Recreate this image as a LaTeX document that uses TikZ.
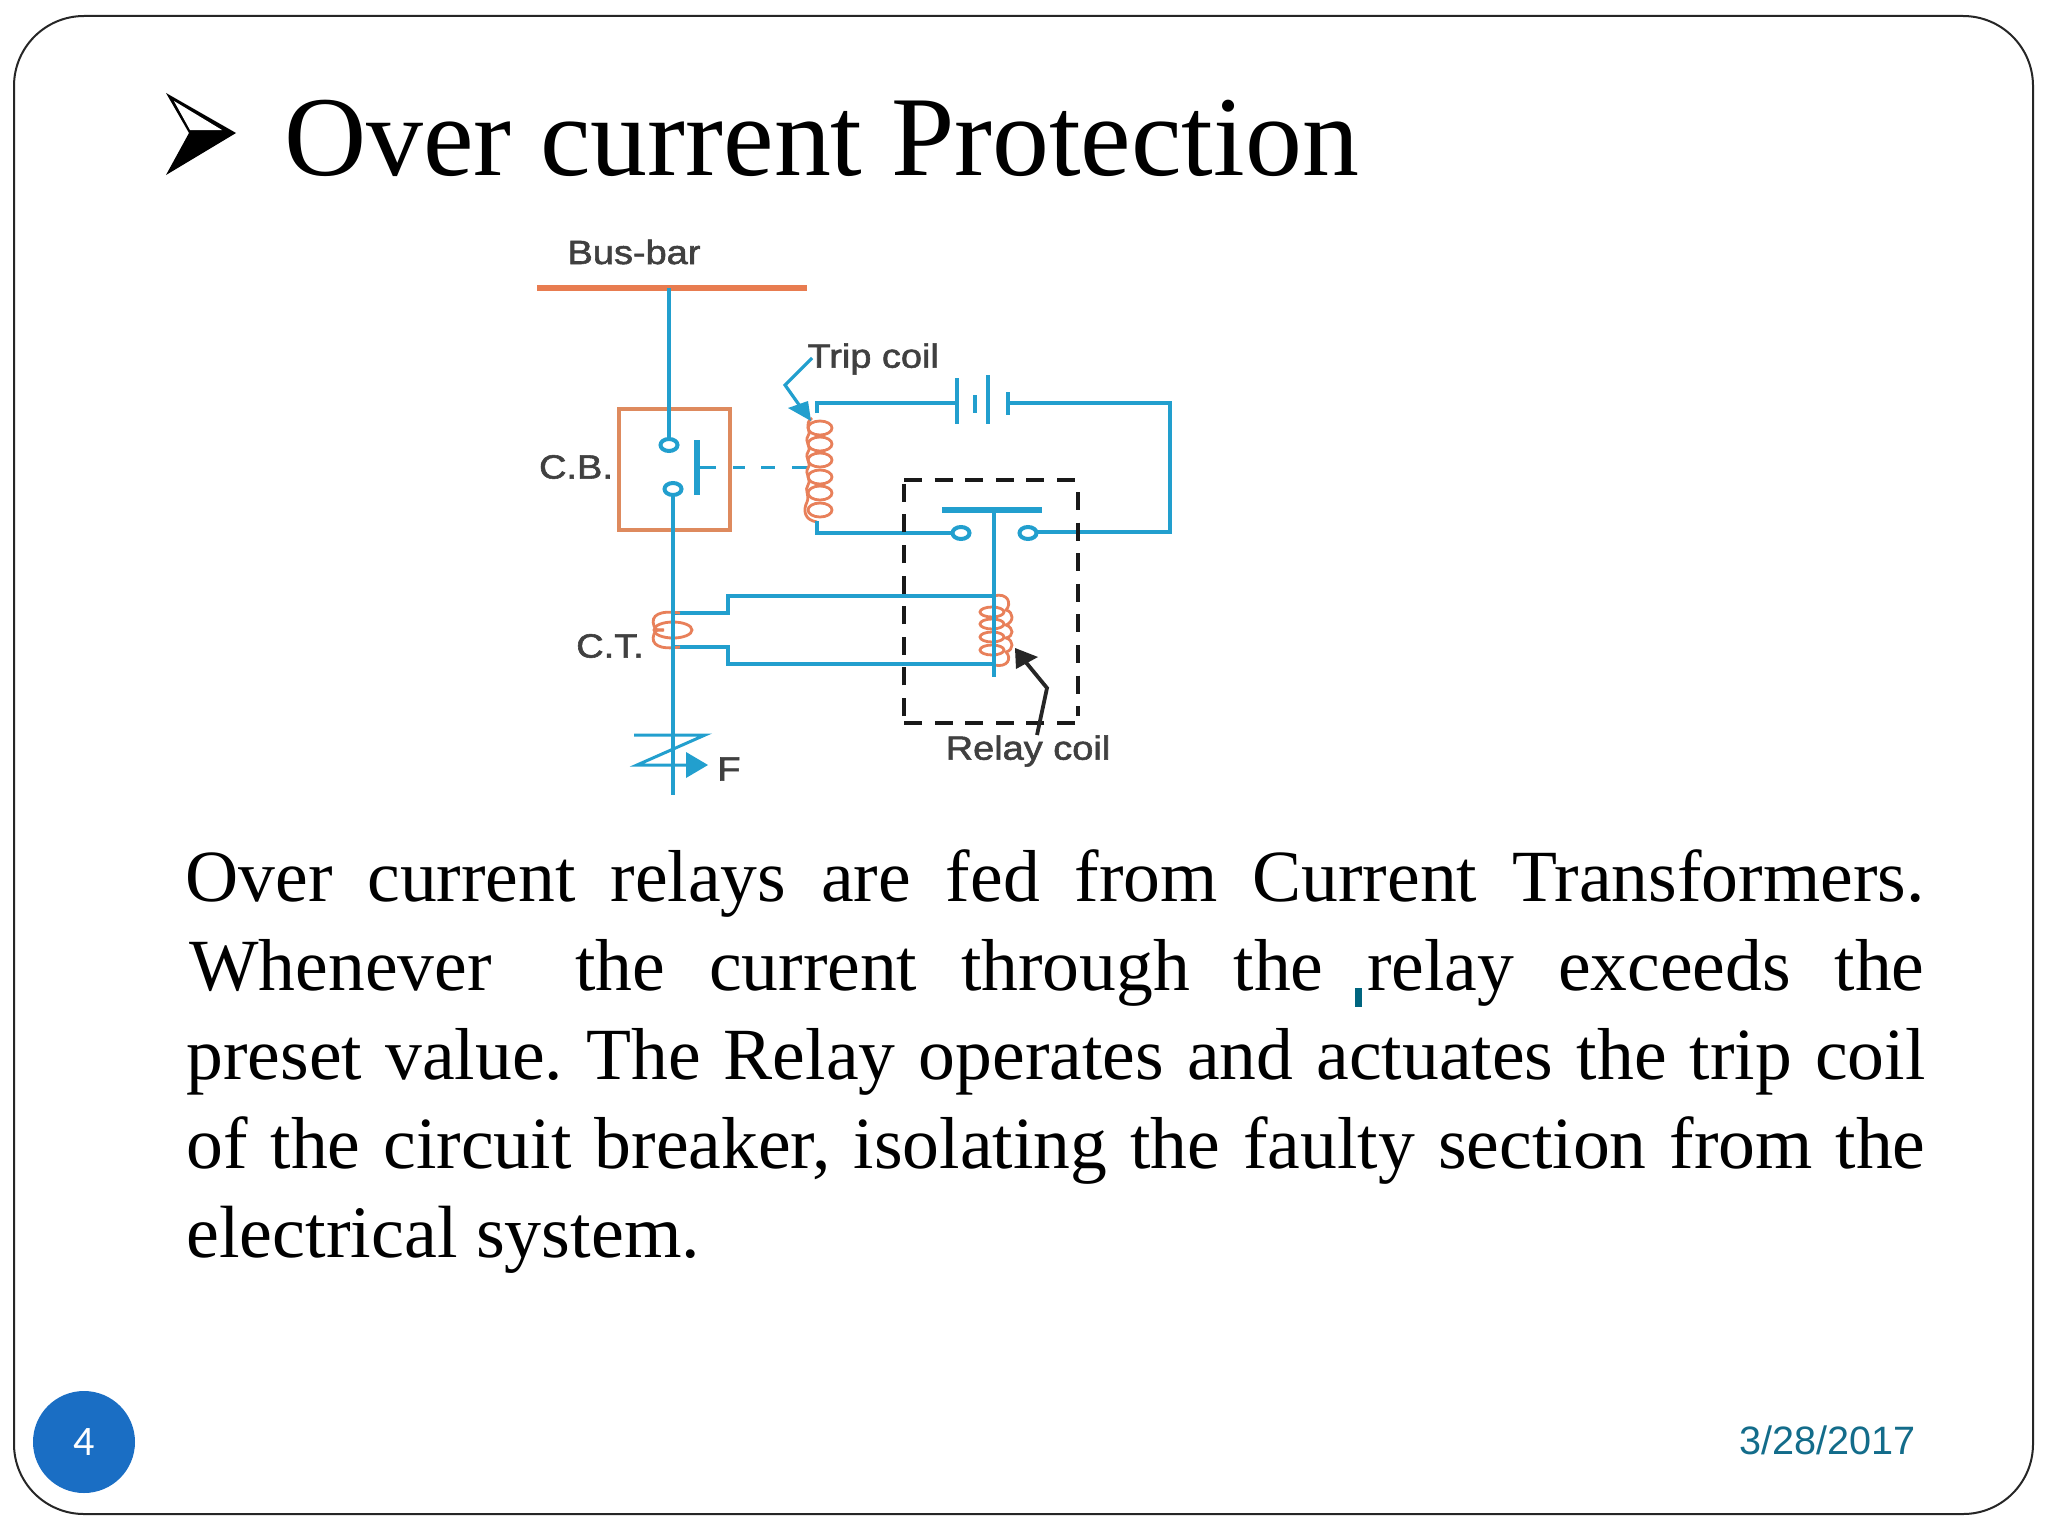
\documentclass[tikz,border=0pt]{standalone}
\usepackage{fontspec}
\setmainfont{Liberation Serif}
\newfontfamily\lab{Liberation Sans}
\newfontfamily\labb[FakeBold=1.6]{Liberation Sans}
\newfontfamily\numf{Carlito}
\usetikzlibrary{arrows.meta}
\definecolor{wire}{HTML}{229FCE}
\definecolor{coil}{HTML}{E8805A}
\definecolor{busc}{HTML}{E87C50}
\definecolor{boxc}{HTML}{DE8A5E}
\definecolor{teal1}{HTML}{00657F}
\definecolor{datec}{HTML}{136C8A}
\definecolor{pagec}{HTML}{1A6EC4}
\tikzset{
 wireline/.style={draw=wire,line width=1.9pt,line join=miter},
 mainwire/.style={draw=wire,line width=2.4pt},
 thickwire/.style={draw=wire,line width=3pt},
 contactring/.style={draw=wire,line width=2pt,fill=white},
 coilline/.style={draw=coil,line width=1.4pt},
 boxdash/.style={black!90,line width=2pt,dash pattern=on 9pt off 6.3pt},
 difflabel/.style={font=\labb\fontsize{16.8}{17}\selectfont,text=black!75,xscale=1.13,transform shape,inner sep=0pt},
 bodyline/.style={anchor=base west,inner sep=0pt,font=\fontsize{36.8}{44}\selectfont},
}
\frenchspacing
\newcommand{\bodyrow}[1]{\makebox[869.5pt][s]{#1}}
\begin{document}
\begin{tikzpicture}[x=0.5pt,y=-0.5pt]
\useasboundingbox (0,0) rectangle (2048,1536);
\fill[white] (0,0) rectangle (2048,1536);
\draw[line width=1pt,black!85,rounded corners=35pt] (14,16) rectangle (2033,1514);
% bullet
\fill[black] (166,93) -- (236,133) -- (166,175) -- (189,133) -- cycle;
\fill[white] (174,101) -- (222,130) -- (190,130) -- cycle;
\node[anchor=base west,inner sep=0pt,font=\fontsize{56.9}{60}\selectfont] (title) at (284,175) {Over current Protection};
% diagram
\draw[draw=busc,line width=3pt] (537,288) -- (807,288);
\draw[draw=boxc,line width=1.7pt] (619,409) rectangle (730,530);
\coordinate (tc) at (669,445);
\coordinate (bc) at (673,489);
\coordinate (busjoin) at (669,288);
\coordinate (fend) at (673,795);
\draw[mainwire] (busjoin) -- (tc);
\draw[mainwire] (bc) -- (fend);
\draw[contactring] (tc) ellipse (8.5 and 6);
\draw[contactring] (bc) ellipse (8.5 and 6);
\draw[thickwire] (697,440) -- (697,495);
\draw[draw=wire,line width=1.5pt] (697,467) -- (716,467) (733,467) -- (745,467) (761,467) -- (775,467) (792,467) -- (808,467);
% trip coil
\foreach \yy in {428,444,460,477,493,510}{
 \draw[coilline] (820,\yy) ellipse (12 and 7);
}
\draw[coilline] (812,418) .. controls (803,425) and (812,430) .. (808,436)
 .. controls (804,442) and (812,446) .. (808,452)
 .. controls (804,458) and (812,462) .. (808,468)
 .. controls (804,474) and (812,478) .. (808,485)
 .. controls (804,490) and (810,495) .. (807,502)
 .. controls (803,510) and (804,520) .. (817,522);
\draw[wireline] (817,413) -- (817,403) -- (957,403);
\draw[wireline] (1008,403) -- (1170,403) -- (1170,532) -- (1028,532);
\draw[wireline] (961,533) -- (817,533) -- (817,521);
\draw[draw=wire,line width=2.4pt] (957,378) -- (957,424);
\draw[draw=wire,line width=2.4pt] (975,395) -- (975,413);
\draw[draw=wire,line width=2.4pt] (988,375) -- (988,424);
\draw[draw=wire,line width=2.4pt] (1008,392) -- (1008,415);
\draw[contactring] (961,533) ellipse (8.5 and 6);
\draw[contactring] (1028,533) ellipse (8.5 and 6);
\draw[thickwire] (942,510) -- (1042,510);
% relay dashed box
\draw[boxdash] (904,480) -- (1078,480);
\draw[boxdash] (1078,492) -- (1078,716);
\draw[boxdash] (1075,723) -- (904,723);
\draw[boxdash] (904,716) -- (904,484);
% relay coil
\foreach \yy in {612,624,637,650}{
 \draw[coilline] (992,\yy) ellipse (12 and 5);
}
\draw[coilline] (994,596) .. controls (1008,592) and (1012,604) .. (1006,610)
 .. controls (1014,612) and (1014,622) .. (1006,625)
 .. controls (1014,628) and (1014,636) .. (1006,638)
 .. controls (1014,640) and (1014,650) .. (1006,652)
 .. controls (1012,658) and (1008,668) .. (994,665);
% CT wires and coil
\draw[wireline] (673,613) -- (728,613) -- (728,596) -- (994,596);
\draw[wireline] (673,647) -- (728,647) -- (728,664) -- (994,664);
\draw[coilline] (673,630) ellipse (19 and 8);
\draw[coilline] (680,613) .. controls (660,610) and (650,615) .. (654,626)
 .. controls (656,632) and (660,630) .. (664,630);
\draw[coilline] (680,647) .. controls (660,650) and (650,645) .. (654,634)
 .. controls (656,628) and (660,630) .. (664,630);
\draw[mainwire] (673,600) -- (673,660);
\draw[mainwire] (994,510) -- (994,677);
% fault symbol
\draw[draw=wire,line width=1.5pt] (634,735) -- (705,735) -- (637,765) -- (690,765);
\fill[wire] (708,765) -- (686,752) -- (686,778) -- cycle;
% pointers
\coordinate (tripstart) at (812,358);
\coordinate (tripknee) at (785,385);
\coordinate (triptip) at (811,421);
\draw[wireline,line width=1.6pt] (tripstart) -- (tripknee) -- (802,409);
\fill[wire] (triptip) -- (788,408) -- (808,401) -- cycle;
\coordinate (relstart) at (1037,735);
\coordinate (relknee) at (1047,688);
\coordinate (reltip) at (1015,648);
\draw[black!85,line width=1.9pt] (relstart) -- (relknee) -- (1024,660);
\fill[black!85] (reltip) -- (1038,657) -- (1016,669) -- cycle;
% labels
\node[difflabel] (lbus) at (634,252) {Bus-bar};
\node[difflabel] (lcb) at (576,467) {C.B.};
\node[difflabel] (lct) at (610,646) {C.T.};
\node[difflabel,anchor=west] (ltrip) at (807,359) {Trip coil};
\node[difflabel] (lrel) at (1028,751) {Relay coil};
\node[difflabel] (lf) at (729,769) {F};
% body
\node[bodyline] (b1) at (185,901) {\bodyrow{Over current relays are fed from Current Transformers.}};
\node[bodyline,anchor=base west] (b2) at (189,990) {\makebox[867.5pt][s]{Whenever\hspace{20pt} the current through the relay exceeds the}};
\node[bodyline] (b3) at (186,1079) {\bodyrow{preset value. The Relay operates and actuates the trip coil}};
\node[bodyline] (b4) at (186,1168) {\bodyrow{of the circuit breaker, isolating the faulty section from the}};
\node[bodyline,font=\fontsize{37}{44}\selectfont] (b5) at (186,1257) {electrical system.};
\fill[teal1] (1355,988) rectangle (1362,1007);
% footer
\node[circle,fill=pagec,minimum size=51pt,inner sep=0pt,text=white,font=\numf\fontsize{21}{21}\selectfont] (page) at (84,1442) {4};
\node[anchor=base east,inner sep=0pt,text=datec,font=\lab\fontsize{19.8}{20}\selectfont] (date) at (1916,1454) {3/28/2017};
\end{tikzpicture}
\end{document}
